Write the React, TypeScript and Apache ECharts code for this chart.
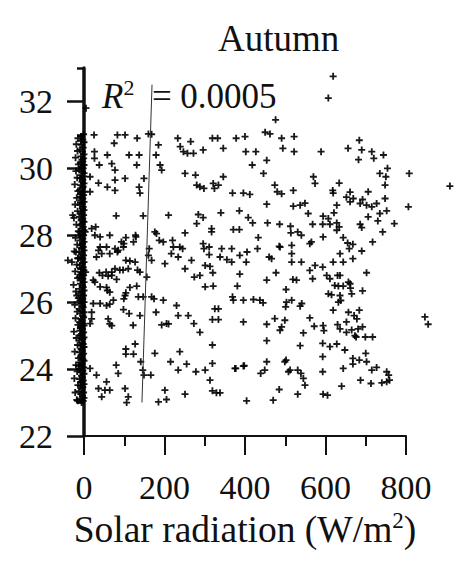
import React, { useEffect, useRef } from "react";
import * as echarts from "echarts";

const FONT = "Liberation Serif";
const titleText = "Autumn";
const xAxisTitle = "Solar radiation (W/m{s|2})";
const r2Value = "0.0005";
const xTickValues = [0, 200, 400, 600, 800];
const yMajorTicks = [22, 24, 26, 28, 30, 32];
const yMinorTicks = [23, 25, 27, 29, 31, 33];
const trendLine = [[144, 23], [169, 32.5]];

// night-time readings clustered at ~0 W/m2
const nightPoints = [
  [-6,23.0],[-2,23.05],[-10,23.1],[0,23.14],[-4,23.2],[-8,23.25],[-1,23.3],[-12,23.34],[-5,23.4],[-3,23.46],[-9,23.5],[0,23.55],[-7,23.6],[-2,23.66],[-11,23.7],[-4,23.75],[-6,23.8],[0,23.86],[-9,23.9],[-3,23.95],[-12,24.0],[-1,24.05],[-7,24.1],[-5,24.16],[-10,24.2],[0,24.25],[-3,24.3],[-8,24.36],[-6,24.4],[-1,24.46],[-11,24.5],[-4,24.55],[-7,24.6],[0,24.66],[-9,24.7],[-2,24.75],[-5,24.8],[-12,24.86],[-3,24.9],[0,24.95],[-8,25.0],[-6,25.05],[-1,25.1],[-10,25.15],[-4,25.2],[-7,25.26],[0,25.3],[-2,25.35],[-11,25.4],[-5,25.45],[-8,25.5],[-1,25.55],[-3,25.6],[-9,25.66],[0,25.7],[-6,25.75],[-12,25.8],[-2,25.85],[-4,25.9],[-7,25.95],[0,26.0],[-10,26.05],[-3,26.1],[-5,26.15],[-1,26.2],[-8,26.25],[-6,26.3],[0,26.35],[-11,26.4],[-2,26.45],[-4,26.5],[-9,26.55],[0,26.6],[-7,26.65],[-3,26.7],[-12,26.75],[-1,26.8],[-5,26.85],[-8,26.9],[0,26.95],[-6,27.0],[-2,27.05],[-10,27.1],[-4,27.15],[0,27.2],[-7,27.25],[-3,27.3],[-9,27.35],[-1,27.4],[-5,27.45],[-12,27.5],[0,27.55],[-6,27.6],[-2,27.65],[-8,27.7],[-4,27.75],[0,27.8],[-10,27.85],[-3,27.9],[-6,27.95],[-1,28.0],[-7,28.05],[-11,28.1],[0,28.15],[-4,28.2],[-2,28.25],[-9,28.3],[-5,28.35],[0,28.4],[-7,28.45],[-3,28.5],[-12,28.55],[-1,28.6],[-6,28.65],[-8,28.7],[0,28.75],[-4,28.8],[-2,28.85],[-10,28.9],[-5,28.95],[0,29.0],[-7,29.05],[-3,29.1],[-9,29.15],[-1,29.2],[-6,29.25],[0,29.3],[-11,29.35],[-4,29.4],[-2,29.45],[-8,29.5],[0,29.55],[-5,29.6],[-3,29.66],[-10,29.7],[-1,29.76],[-7,29.8],[0,29.86],[-4,29.9],[-12,29.95],[-2,30.0],[-6,30.05],[0,30.1],[-9,30.16],[-3,30.2],[-5,30.26],[-1,30.3],[-8,30.36],[0,30.42],[-4,30.5],[-10,30.56],[-2,30.62],[-6,30.7],[0,30.78],[-3,30.86],[-7,30.95],[-1,31.02],
  [5,31.8],[-28,28.6],[-40,27.25],[-15,27.3],[-20,27.5],[-18,26.2],[-14,24.1],[-16,23.05],[3,28.1],[4,26.9]
];

// further night readings slightly below zero (sensor offset)
const nightOffsetPoints = [
  [-18,23.08],[-22,23.3],[-15,23.52],[-24,23.72],[-17,23.93],[-20,24.12],[-14,24.33],[-23,24.52],[-16,24.72],[-19,24.93],[-25,25.12],[-15,25.32],[-21,25.52],[-17,25.72],[-23,25.92],[-14,26.12],[-20,26.32],[-26,26.52],[-16,26.72],[-22,26.92],[-18,27.12],[-30,27.2],[-15,27.32],[-24,27.52],[-17,27.72],[-21,27.92],[-14,28.12],[-19,28.32],[-25,28.52],[-16,28.72],[-22,28.92],[-18,29.12],[-15,29.32],[-23,29.52],[-17,29.72],[-20,29.92],[-14,30.12],[-21,30.32],[-16,30.52],[-19,30.72],[-15,30.9],
  [-8,23.62],[-5,24.42],[-9,25.22],[-4,26.02],[-10,26.82],[-6,27.62],[-3,28.42],[-9,29.22],[-5,30.02],[-8,30.82]
];

// daytime readings
const dayPoints = [
  [619,32.75],[607,32.1],[476,31.45],[450,31.08],[462,31.03],[491,30.9],[522,30.95],[25,31.0],[83,31.0],[102,31.0],[132,30.9],[75,30.75],[160,31.03],[168,31.02],[185,30.7],[233,30.9],[239,30.65],[265,30.8],[247,30.5],[257,30.45],[272,30.45],[296,30.55],[319,30.9],[332,30.9],[346,30.6],[378,30.9],[400,30.95],[402,30.5],[427,30.5],[454,30.24],[494,30.6],[522,30.5],[589,30.5],[684,30.84],[656,30.6],[690,30.55],[715,30.5],[744,30.4],[682,30.26],[720,30.3],[112,30.4],[137,30.4],[58,30.4],[26,30.5],[26,30.3],[38,30.1],[69,30.14],[77,29.95],[131,30.1],[179,30.4],[189,30.1],[193,29.95],[251,29.85],[277,29.8],[280,29.5],[288,29.45],[298,29.4],[321,29.55],[334,29.5],[324,29.4],[346,29.75],[369,29.26],[396,29.26],[412,29.22],[418,30.1],[446,29.85],[474,29.5],[480,29.3],[491,29.24],[520,29.34],[570,29.75],[574,29.55],[618,29.34],[619,29.26],[634,29.56],[661,29.29],[735,29.85],[750,29.75],[748,29.5],[754,30.0],[808,29.85],[909,29.47],[706,29.3],[36,29.56],[58,29.44],[77,29.34],[77,29.65],[102,29.7],[15,29.3],[15,29.75],[149,29.7],[137,29.44],[139,29.26],[652,29.14],[669,29.1],[692,29.07],[748,29.1],
  [454,28.93],[520,28.87],[537,28.9],[549,28.96],[557,28.65],[594,28.57],[607,28.5],[621,28.67],[628,28.9],[661,29.0],[686,28.95],[702,28.9],[715,28.85],[727,28.95],[706,28.55],[735,28.65],[752,28.73],[806,28.85],[771,28.35],[730,28.43],[80,28.58],[147,28.58],[210,28.6],[284,28.62],[296,28.53],[340,28.67],[386,28.73],[408,28.53],[419,28.37],[456,28.37],[486,28.33],[513,28.27],[531,28.1],[568,28.33],[593,28.33],[611,28.33],[628,28.15],[634,28.25],[628,28.37],[686,28.33],[690,28.23],[644,27.93],[655,27.77],[668,27.73],[659,27.6],[690,27.53],[668,27.3],[636,27.45],[619,27.2],[644,27.2],[717,27.8],[742,28.1],[594,27.95],[565,27.8],[561,27.75],[540,28.0],[514,28.07],[487,27.65],[516,27.7],[516,27.45],[516,27.2],[540,27.2],[561,26.95],[574,27.1],[568,26.7],[593,27.05],[603,26.8],[611,26.7],[630,26.8],[636,26.8],
  [607,26.25],[615,26.22],[623,26.5],[632,26.48],[644,26.48],[662,26.42],[636,26.2],[638,26.05],[632,26.0],[665,26.25],[657,26.6],[661,26.55],
  [702,26.88],[692,26.34],[657,25.7],[671,25.6],[684,25.76],[678,25.5],[636,25.2],[652,25.1],[665,25.17],[681,25.2],[692,25.26],[630,25.33],[673,25.0],[676,24.96],[699,24.96],[717,24.96],[594,25.3],[596,25.15],[611,24.67],[628,24.75],[648,24.57],[593,24.77],[593,24.37],[593,23.92],[644,24.02],[668,24.32],[684,24.27],[668,24.15],[700,24.47],[702,24.22],[715,23.97],[727,24.05],[752,23.92],[757,23.82],[759,23.67],[752,23.62],[740,23.59],[713,23.57],[687,23.67],[640,23.49],[605,23.22],[531,23.97],[539,23.87],[545,23.72],[549,23.52],[502,24.27],[508,23.92],[512,23.97],[531,23.25],[485,23.39],[470,23.07],[404,23.05],[439,23.87],[449,23.97],[398,24.1],[377,24.02],[454,24.85],[454,25.34],[491,25.26],[487,25.16],[499,25.46],[474,25.51],[503,26.0],[501,25.86],[516,26.06],[537,25.88],[541,25.96],[561,25.53],[572,25.28],[537,24.7],[545,25.08],[502,26.38],[528,26.66],[519,26.68],[454,26.66],[477,26.88],[485,27.67],[460,27.35],[466,27.3],[433,27.93],[431,27.6],[421,26.08],[437,26.06],[445,25.98],[396,26.06],[396,25.41],[369,26.16],[371,26.06],[387,26.84],[381,26.48],[403,27.2],[405,27.5],[387,27.4],[342,27.6],[367,27.6],[338,27.35],[355,27.27],[367,27.2],[311,27.65],[311,27.42],[296,27.75],[298,27.6],[301,27.1],[313,27.07],[288,26.8],[267,27.25],[274,26.75],[320,26.88],[301,26.46],[321,26.48],[325,25.8],[334,25.8],[319,25.48],[334,25.48],[288,25.1],[273,25.36],[259,25.6],[230,25.9],[197,26.06],[147,26.16],[168,26.16],[174,26.1],[179,25.7],[193,25.32],[205,25.36],[210,25.35],[234,25.6],[251,27.0],[245,27.6],[234,27.35],[238,27.65],[217,27.45],[222,27.65],[197,27.8],[180,28.05],[176,28.1],[187,27.85],[168,27.25],[162,27.6],[160,27.4],[201,27.15],[220,27.85],[251,28.07],[280,28.35],[317,28.1],[317,28.2],[371,28.17],[386,28.17],[156,26.75],[128,28.0],[129,27.95],[123,27.8],[104,27.93],[99,27.75],[93,27.8],[77,27.6],[85,27.55],[56,27.65],[40,27.65],[44,27.45],[31,27.35],[36,27.55],[19,28.2],[29,28.25],[40,27.95],[27,28.0],[64,28.0],[64,27.45],[83,27.5],[98,27.65],[104,27.25],[114,27.23],[127,27.2],[89,26.96],[97,26.96],[110,27.0],[133,26.96],[139,26.9],[77,27.0],[69,26.9],[55,26.9],[38,26.88],[46,26.8],[60,26.78],[69,26.8],[23,26.66],[27,26.6],[40,26.46],[56,26.44],[64,26.3],[58,26.35],[81,26.68],[104,26.28],[114,26.44],[131,26.48],[99,26.1],[102,26.2],[112,25.66],[122,25.31],[139,25.6],[135,26.16],[23,25.96],[40,25.96],[56,25.9],[64,25.94],[73,26.06],[98,25.78],[19,25.7],[19,25.5],[60,25.5],[64,25.35],[69,25.3],[15,25.36],[104,24.6],[104,24.45],[127,24.75],[123,24.45],[80,24.12],[85,23.87],[15,24.02],[31,23.82],[36,23.42],[44,23.17],[52,23.37],[56,23.62],[64,23.37],[102,23.42],[110,23.17],[106,23.0],[141,24.22],[146,23.97],[149,23.82],[166,23.82],[176,24.47],[185,23.02],[205,23.09],[201,23.37],[215,24.22],[234,23.97],[238,24.52],[255,24.15],[251,23.25],[278,23.92],[301,23.97],[313,23.67],[319,23.35],[329,23.29],[338,23.29],[319,24.72],[319,24.17],[375,24.02],[396,24.09],[454,24.22],[499,24.22],[594,23.25],[619,25.76],[652,25.41],[847,25.56],[855,25.34]
];

const PLUS = "path://M3.7,0H6.3V3.7H10V6.3H6.3V10H3.7V6.3H0V3.7H3.7Z";
const INK = "#111";

export default function App() {
  const ref = useRef<HTMLDivElement>(null);
  useEffect(() => {
    if (!ref.current) return;
    const chart = echarts.init(ref.current, null, { renderer: "svg" });
    const scatterBase = {
      type: "scatter",
      symbol: PLUS,
      symbolSize: 7,
      clip: false,
      itemStyle: { color: "#000", opacity: 0.9 },
      silent: true,
    };
    chart.setOption({
      animation: false,
      textStyle: { fontFamily: FONT },
      title: {
        text: titleText,
        left: 218,
        top: 20,
        padding: 0,
        textStyle: { fontFamily: FONT, fontSize: 37, fontWeight: "normal", color: INK },
      },
      grid: { left: 84, top: 68, width: 322, height: 368, containLabel: false },
      xAxis: {
        type: "value",
        min: 0,
        max: 800,
        interval: 200,
        axisLine: { show: true, lineStyle: { color: INK, width: 2 } },
        axisTick: { show: true, length: 19, lineStyle: { color: INK, width: 2 } },
        minorTick: { show: true, splitNumber: 2, length: 10, lineStyle: { color: INK, width: 2 } },
        splitLine: { show: false },
        axisLabel: {
          fontFamily: FONT,
          fontSize: 34,
          color: INK,
          margin: 34,
          customValues: xTickValues,
        },
        name: xAxisTitle,
        nameLocation: "middle",
        nameGap: 73,
        nameTextStyle: {
          fontFamily: FONT,
          fontSize: 37.5,
          color: INK,
          lineHeight: 40,
          rich: {
            s: { fontFamily: FONT, fontSize: 23, color: INK, verticalAlign: "top", lineHeight: 22 },
          },
        },
      },
      yAxis: [
        {
          type: "value",
          min: 22,
          max: 33,
          interval: 1,
          axisLine: { show: true, lineStyle: { color: INK, width: 3.5 } },
          axisTick: { show: true, customValues: yMajorTicks, length: 17, lineStyle: { color: INK, width: 2.5 } },
          axisLabel: { fontFamily: FONT, fontSize: 34, color: INK, margin: 31, customValues: yMajorTicks },
          splitLine: { show: false },
        },
        {
          type: "value",
          min: 22,
          max: 33,
          interval: 1,
          position: "left",
          axisLine: { show: false },
          axisTick: { show: true, customValues: yMinorTicks, length: 7, lineStyle: { color: INK, width: 2.5 } },
          axisLabel: { show: false },
          splitLine: { show: false },
        },
      ],
      graphic: [
        {
          type: "text",
          left: 102,
          top: 76,
          style: {
            text: "{r|R}{s|2}{n|  = " + r2Value + "}",
            rich: {
              r: { fontFamily: FONT, fontStyle: "italic", fontSize: 35, fill: INK, lineHeight: 40 },
              s: { fontFamily: FONT, fontSize: 22, fill: INK, verticalAlign: "top", lineHeight: 21 },
              n: { fontFamily: FONT, fontSize: 35, fill: INK, lineHeight: 40 },
            },
          },
        },
      ],
      series: [
        { ...scatterBase, name: "night", data: nightPoints },
        { ...scatterBase, name: "nightOffset", data: nightOffsetPoints },
        { ...scatterBase, name: "day", data: dayPoints },
        {
          type: "line",
          name: "trend",
          data: trendLine,
          symbol: "none",
          clip: false,
          silent: true,
          lineStyle: { color: "#333", width: 1 },
        },
      ],
    });
    return () => chart.dispose();
  }, []);
  return (
    <div
      ref={ref}
      style={{ position: "absolute", left: 0, top: 0, width: 474, height: 578 }}
    />
  );
}
